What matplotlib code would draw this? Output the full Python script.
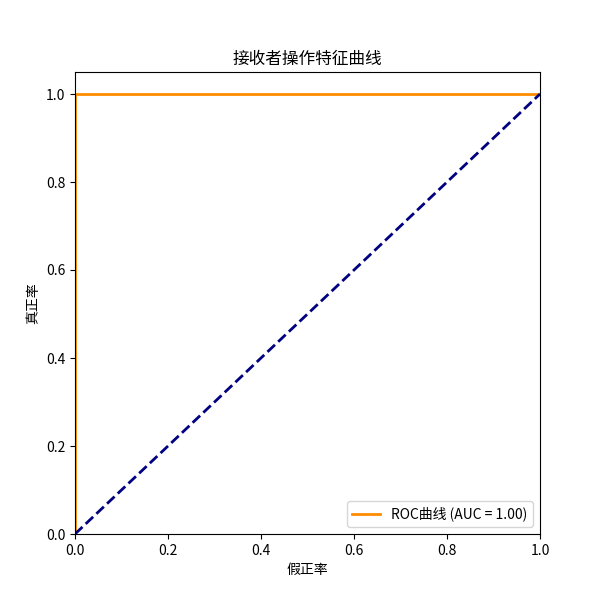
import numpy as np
import matplotlib
matplotlib.use("Agg")
import matplotlib.pyplot as plt

plt.rcParams['font.family'] = ['Noto Sans CJK SC', 'DejaVu Sans']
plt.rcParams['axes.unicode_minus'] = False

fpr = [0.0, 0.0, 1.0]
tpr = [0.0, 1.0, 1.0]
roc_auc = 1.00
diag = [0.0, 1.0]

fig = plt.figure(figsize=(6, 6), dpi=100)
ax = fig.add_subplot(1, 1, 1)
ax.plot(fpr, tpr, color='darkorange', lw=2, label='ROC曲线 (AUC = %0.2f)' % roc_auc)
ax.plot(diag, diag, color='navy', lw=2, linestyle='--')
ax.set_xlim([0.0, 1.0])
ax.set_ylim([0.0, 1.05])
ax.set_xlabel('假正率')
ax.set_ylabel('真正率')
ax.set_title('接收者操作特征曲线')
ax.legend(loc='lower right')
fig.savefig('out.png')
